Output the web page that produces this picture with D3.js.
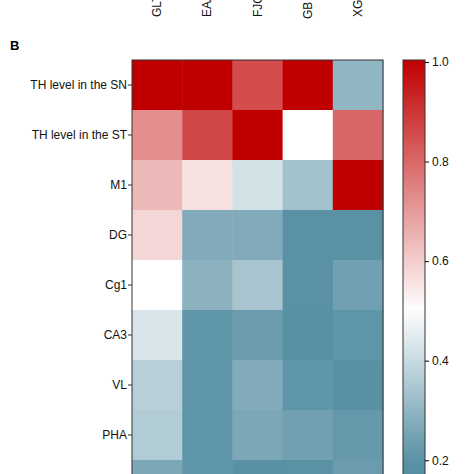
<!DOCTYPE html><html><head><script src="https://cdn.jsdelivr.net/npm/d3@7"></script>
<style>body{margin:0;background:#fff}text{font-family:Arial,"Liberation Sans",sans-serif}</style></head><body>
<svg id="c" width="474" height="474"></svg>
<script>
const cols=["GLT-1","EAAC1","FJC","GBP","XGA"];
const rows=["TH level in the SN","TH level in the ST","M1","DG","Cg1","CA3","VL","PHA","R9"];
const values=[
[1.0,1.0,0.85,1.0,0.3],
[0.72,0.86,1.0,0.5,0.8],
[0.64,0.56,0.42,0.33,1.0],
[0.58,0.27,0.27,0.2,0.2],
[0.5,0.29,0.34,0.2,0.24],
[0.43,0.21,0.23,0.19,0.21],
[0.37,0.21,0.27,0.21,0.19],
[0.36,0.21,0.26,0.24,0.22],
[0.26,0.21,0.19,0.2,0.23]];
const ticks=[0.2,0.4,0.6,0.8,1.0];
const svg=d3.select("#c");
const x=d3.scaleBand().domain(cols).range([132,383]);
const y=d3.scaleBand().domain(rows).range([60,510]);
const color=d3.scaleLinear().domain([0.1,0.2,0.5,1.0]).range(["#4a8297","#5a91a5","#ffffff","#c00000"]);
const g=svg.append("g");
rows.forEach((r,i)=>cols.forEach((c,j)=>{
 g.append("rect").attr("x",x(c)).attr("y",y(r)).attr("width",x.bandwidth()+0.5).attr("height",y.bandwidth()+0.5).attr("fill",color(values[i][j]));
}));
g.append("rect").attr("x",132).attr("y",60).attr("width",251).attr("height",450).attr("fill","none").attr("stroke","#333").attr("stroke-width",1);
const ya=svg.append("g").attr("transform","translate(132,0)").call(d3.axisLeft(y).tickSize(4).tickPadding(1).tickFormat(d=>d==="R9"?"":d));
ya.select(".domain").remove();
ya.selectAll("line").attr("stroke","#333");
ya.selectAll("text").attr("font-size",12).attr("fill","#111");
svg.selectAll(".colLabel").data(cols).join("text").attr("class","colLabel")
 .attr("transform",d=>`translate(${x(d)+x.bandwidth()/2+4},${d==="GBP"?19:17}) rotate(-90)`)
 .attr("font-size",12).attr("fill","#111").text(d=>d==="GBP"?"GB":d);
svg.append("text").attr("x",10).attr("y",50).attr("font-weight","bold").attr("font-size",13).text("B");
const cy=d3.scaleLinear().domain([0.1,1.0]).range([510,62]);
const defs=svg.append("defs");
const lg=defs.append("linearGradient").attr("id","lg").attr("x1",0).attr("y1",1).attr("x2",0).attr("y2",0);
d3.range(0,1.001,0.05).forEach(t=>lg.append("stop").attr("offset",t).attr("stop-color",color(0.1+0.9*t)));
svg.append("rect").attr("x",403).attr("y",60).attr("width",22).attr("height",450).attr("fill","url(#lg)").attr("stroke","#333");
const ca=svg.append("g").attr("transform","translate(425,0)").call(d3.axisRight(cy).tickValues(ticks).tickSize(4).tickFormat(d3.format(".1f")));
ca.select(".domain").remove();
ca.selectAll("text").attr("font-size",12).attr("fill","#111");
</script></body></html>
